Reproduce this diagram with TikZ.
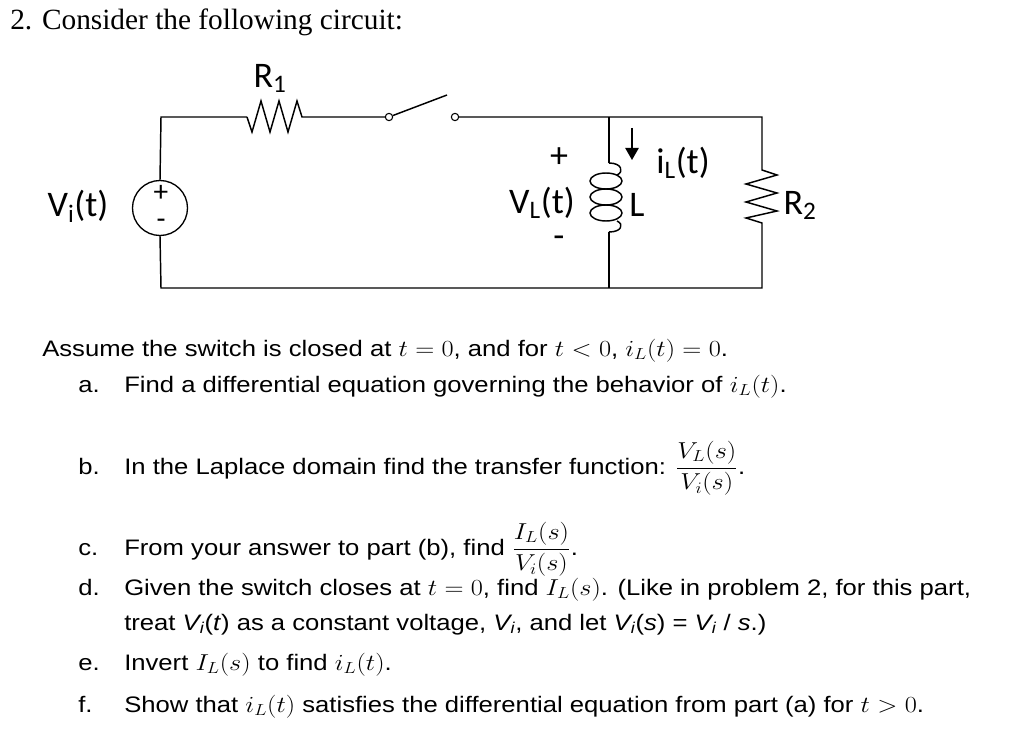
\documentclass[tikz,border=0pt]{standalone}
\usepackage{amsmath}
\usepackage{graphicx}
\usepackage{fontspec}
\usetikzlibrary{arrows.meta}
\setmainfont{Liberation Sans}
\newfontfamily\serifT{Liberation Serif}
\newfontfamily\calfont{Carlito}
\newcommand{\sxw}[1]{\scalebox{1.145}[1]{#1}}
\begin{document}
\begin{tikzpicture}[x=0.75pt,y=-0.75pt,
  wire/.style={line width=1.1pt},
  clab/.style={font=\calfont\fontsize{27}{30}\selectfont,inner sep=0},
  body/.style={font=\fontsize{16.8}{18}\selectfont,anchor=base west,inner sep=0},
  term/.style={circle,draw,line width=0.8pt,inner sep=0,minimum size=5.5pt,fill=white}]
\useasboundingbox (0,0) rectangle (1024,756);
% coordinates
\coordinate (tl) at (161,117);
\coordinate (bl) at (161,288);
\coordinate (r1a) at (247,117);
\coordinate (r1b) at (302,117);
\coordinate (la) at (609,117);
\coordinate (lb) at (609,288);
\coordinate (tr) at (762,117);
\coordinate (br) at (762,288);
\node[circle,draw,line width=1pt,minimum size=55*0.75pt,inner sep=0] (src) at (160,208) {};
\node[term] (s1) at (389,117) {};
\node[term] (s2) at (455,117) {};
% wires
\draw[wire] (src.north) -- (tl) -- (r1a);
\draw[wire] (r1a) -- (252,132) -- (261,101) -- (270,132) -- (279,101) -- (288,132) -- (297,101) -- (r1b) -- (s1);
\draw[wire] (s1) -- (447,95);
\draw[wire] (s2) -- (la) -- (tr) -- (762,170) -- (777,175) -- (746,184) -- (777,193) -- (746,202) -- (777,211) -- (746,218) -- (762,223) -- (br) -- (lb) -- (bl) -- (src.south);
\draw[wire] (la) -- (609,163);
\draw[wire] (609,232) -- (lb);
% inductor
\draw[wire] (609,163) .. controls (622,163) and (624,172) .. (617,175);
\draw[wire] (606,181) ellipse [x radius=16, y radius=8];
\draw[wire] (606,197) ellipse [x radius=16, y radius=8];
\draw[wire] (606,213) ellipse [x radius=16, y radius=8];
\draw[wire] (617,221) .. controls (624,224) and (622,232) .. (609,232);
% source signs
\node[font=\calfont\fontsize{22}{22}\selectfont,inner sep=0] (plus) at (161,193) {+};
\node[font=\calfont\fontsize{22}{22}\selectfont,inner sep=0] (minus) at (161,224) {-};
% arrow
\coordinate (ia) at (632,128);
\coordinate (ib) at (632,160);
\draw[line width=1.1pt,-{Triangle[length=9pt,width=10pt]}] (ia) -- (ib);
% labels
\node[clab] (lr1) at (270,78) {R\textsubscript{1}};
\node[clab] (lvi) at (78,206) {V\textsubscript{i}(t)};
\node[clab] (lvl) at (542,203) {V\textsubscript{L}(t)};
\node[clab] (lp) at (559,158) {+};
\node[clab] (lm) at (559,242) {-};
\node[clab] (lil) at (683,163) {i\textsubscript{L}(t)};
\node[clab] (ll) at (637,205) {L};
\node[clab] (lr2) at (800,205) {R\textsubscript{2}};
% text
\node[body,font=\serifT\fontsize{22}{24}\selectfont] (title) at (10,30) {2. Consider the following circuit:};
\node[body] (t0) at (42,356) {\sxw{Assume the switch is closed at $t=0$, and for $t<0$, $i_L(t)=0$.}};
\node[body] (ta) at (78,392) {\sxw{a.}};
\node[body] (tat) at (124,392) {\sxw{Find a differential equation governing the behavior of $i_L(t)$.}};
\node[body] (tb) at (78,474) {\sxw{b.}};
\node[body] (tbt) at (124,474) {\sxw{In the Laplace domain find the transfer function: $\dfrac{V_L(s)}{V_i(s)}$.}};
\node[body] (tc) at (78,555) {\sxw{c.}};
\node[body] (tct) at (124,555) {\sxw{From your answer to part (b), find $\dfrac{I_L(s)}{V_i(s)}$.}};
\node[body] (td) at (78,595) {\sxw{d.}};
\node[body] (tdt) at (124,595) {\sxw{Given the switch closes at $t=0$, find $I_L(s)$. (Like in problem 2, for this part,}};
\node[body] (td2) at (124,630) {\sxw{treat \textit{V\textsubscript{i}}(\textit{t}) as a constant voltage, \textit{V\textsubscript{i}}, and let \textit{V\textsubscript{i}}(\textit{s}) = \textit{V\textsubscript{i}} / \textit{s}.)}};
\node[body] (te) at (78,670) {\sxw{e.}};
\node[body] (tet) at (124,670) {\sxw{Invert $I_L(s)$ to find $i_L(t)$.}};
\node[body] (tf) at (78,712) {\sxw{f.}};
\node[body] (tft) at (124,712) {\sxw{Show that $i_L(t)$ satisfies the differential equation from part (a) for $t>0$.}};
\end{tikzpicture}
\end{document}
